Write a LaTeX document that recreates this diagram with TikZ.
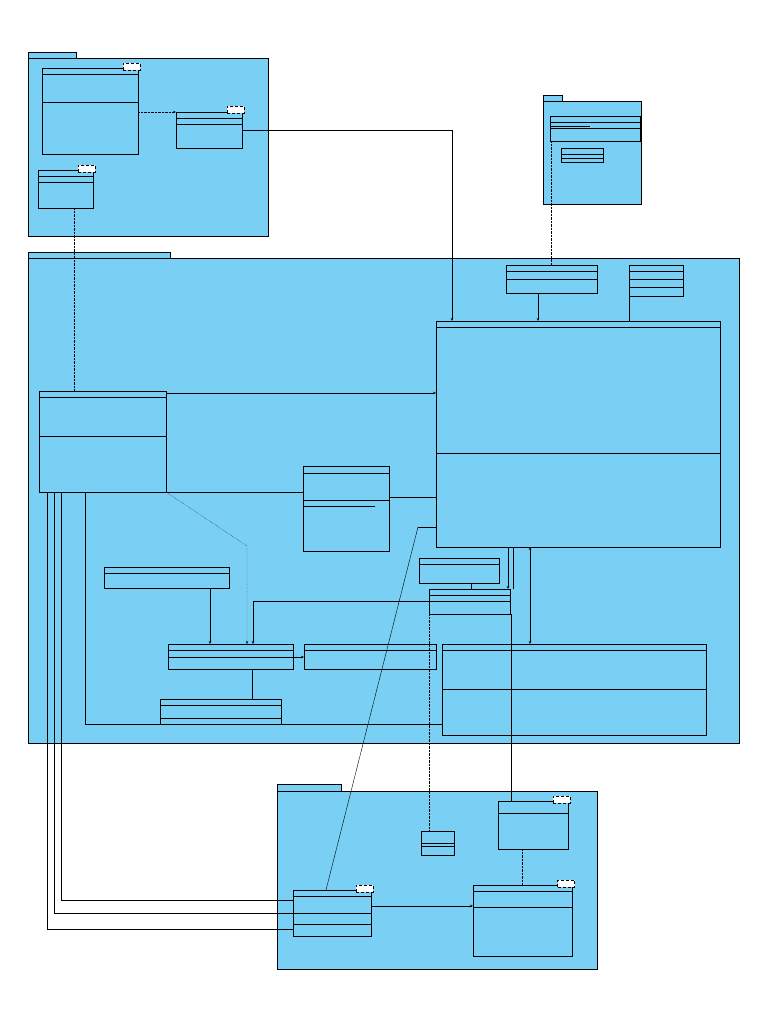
\documentclass[tikz,border=0pt]{standalone}
\usetikzlibrary{arrows.meta}
\definecolor{pk}{HTML}{7ACFF4}
\begin{document}
\begin{tikzpicture}[x=1pt,y=-1pt,
 pkg/.style={draw=black,fill=pk,line width=0.8pt},
 cls/.style={draw=black,fill=pk,line width=0.8pt},
 tmpl/.style={draw=black,fill=white,densely dashed,line width=0.4pt},
 conn/.style={line width=0.6pt},
 arr/.style={conn,-{Stealth[length=3pt,width=2.5pt]}},
 dep/.style={line width=0.4pt,densely dotted}]
\useasboundingbox (0,0) rectangle (768,1024);
% package 1
\draw[pkg] (28,52) rectangle (76,58);
\draw[pkg] (28,58) rectangle (268,236);
\draw[cls] (42,68) rectangle (138,154); \draw (42,74)--(138,74) (42,102)--(138,102);
\node[tmpl,minimum width=17,minimum height=7,inner sep=0] (ta) at (131.5,67) {};
\draw[cls] (176,112) rectangle (242,148); \draw (176,118)--(242,118) (176,124)--(242,124);
\node[tmpl,minimum width=17,minimum height=7,inner sep=0] (tb) at (235.5,109.5) {};
\draw[cls] (38,170) rectangle (93,208); \draw (38,176)--(93,176) (38,182)--(93,182);
\node[tmpl,minimum width=17,minimum height=7,inner sep=0] (tc) at (86.5,168.5) {};
\coordinate (A) at (138,112); \coordinate (B) at (176,112);
\draw[dep,-{Stealth[length=3pt]}] (A)--(B);
% package 2
\draw[pkg] (543,95) rectangle (562,101);
\draw[pkg] (543,101) rectangle (641,204);
\draw[cls] (550,116) rectangle (640,141); \draw (550,122)--(640,122) (550,128)--(640,128);
\draw[line width=0.8pt] (550,126)--(590,126);
\draw[cls] (561,148) rectangle (603,162); \draw (561,154)--(603,154) (561,158)--(603,158);
% package 3
\draw[pkg] (28,252) rectangle (170,258);
\draw[pkg] (28,258) rectangle (739,743);
\draw[cls] (506,265) rectangle (597,293); \draw (506,271)--(597,271) (506,279)--(597,279);
\draw[cls] (629,265) rectangle (683,296); \draw (629,271)--(683,271) (629,279)--(683,279) (629,287)--(683,287);
\draw[cls] (436,321) rectangle (720,547); \draw (436,327)--(720,327) (436,453)--(720,453);
\draw[cls] (39,391) rectangle (166,492); \draw (39,397)--(166,397) (39,436)--(166,436);
\draw[cls] (303,466) rectangle (389,551); \draw (303,473)--(389,473) (303,500)--(389,500) (303,506)--(375,506);
\draw[cls] (104,567) rectangle (229,588); \draw (104,573)--(229,573);
\draw[cls] (419,558) rectangle (499,583); \draw (419,564)--(499,564);
\draw[cls] (429,589) rectangle (510,614); \draw (429,595)--(510,595) (429,601)--(510,601);
\draw[cls] (168,644) rectangle (293,669); \draw (168,650)--(293,650) (168,657)--(293,657);
\draw[cls] (304,644) rectangle (436,669); \draw (304,650)--(436,650);
\draw[cls] (442,644) rectangle (706,735); \draw (442,650)--(706,650) (442,689)--(706,689);
\draw[cls] (160,699) rectangle (281,724); \draw (160,705)--(281,705) (160,718)--(281,718);
% package 4
\draw[pkg] (277,784) rectangle (341,791);
\draw[pkg] (277,791) rectangle (597,969);
\draw[cls] (498,801) rectangle (568,849); \draw (498,813)--(568,813);
\node[tmpl,minimum width=17,minimum height=7,inner sep=0] (tp) at (561.5,799.5) {};
\draw[cls] (421,831) rectangle (454,855); \draw (421,843)--(454,843) (421,846)--(454,846);
\draw[cls] (293,890) rectangle (371,936); \draw (293,896)--(371,896) (293,913)--(371,913) (293,924)--(371,924);
\node[tmpl,minimum width=17,minimum height=7,inner sep=0] (tr) at (364.5,888.5) {};
\draw[cls] (473,885) rectangle (572,956); \draw (473,891)--(572,891) (473,907)--(572,907);
\node[tmpl,minimum width=17,minimum height=7,inner sep=0] (ts) at (566,883.5) {};
% connectors
\draw[arr] (242,130)--(452,130)--(452,321);
\draw[dep] (74,208)--(74,391);
\draw[dep] (551,141)--(551,265);
\draw[arr] (538,293)--(538,321);
\draw[conn] (629,296)--(629,321);
\draw[arr] (166,393)--(436,393);
\draw[conn] (166,492)--(303,492);
\draw[conn] (389,497)--(436,497);
\draw[dep,-{Stealth[length=3pt]}] (166,492)--(247,546)--(247,644);
\draw[arr] (210,588)--(210,644);
\draw[arr] (429,601)--(253,601)--(253,644);
\draw[conn] (471,583)--(471,589);
\draw[arr] (508,547)--(508,589);
\draw[conn] (513,547)--(513,589);
\draw[conn,{Stealth[length=3pt,width=2.5pt]}-{Stealth[length=3pt,width=2.5pt]}] (530,547)--(530,644);
\draw[arr] (293,657)--(304,657);
\draw[conn] (252,669)--(252,699);
\draw[conn] (85,492)--(85,724)--(442,724);
\draw[dep] (429,614)--(429,831);
\draw[conn] (436,527)--(418,527);
\draw[line width=0.4pt] (418,527)--(326,890);
\draw[conn] (511,614)--(511,801);
\draw[dep] (522,849)--(522,885);
\draw[arr] (371,906)--(473,906);
\draw[conn] (47,492)--(47,929)--(293,929);
\draw[conn] (54,492)--(54,913)--(293,913);
\draw[conn] (61,492)--(61,900)--(293,900);
\end{tikzpicture}
\end{document}
